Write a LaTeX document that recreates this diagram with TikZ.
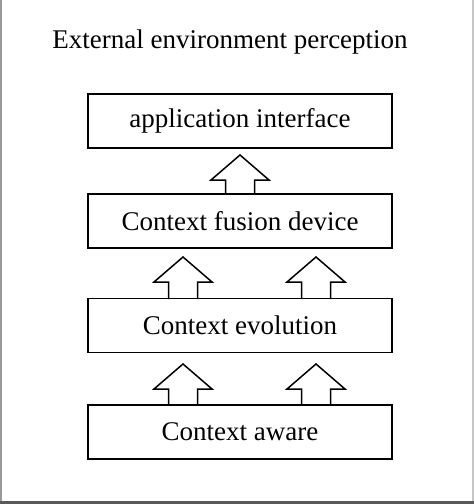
\documentclass[tikz,border=0pt]{standalone}
\usepackage{fontspec}
\setmainfont{Liberation Serif}
\begin{document}
\begin{tikzpicture}[x=1pt,y=-1pt,
  layer/.style={draw,line width=1.8pt,minimum width=304pt,minimum height=54pt,inner sep=0pt,font=\fontsize{27}{31}\selectfont},
  fatarrow/.style={draw,line width=1.5pt,fill=white,line join=miter}]
\useasboundingbox (0,0) rectangle (474,504);
\fill[white] (0,0) rectangle (474,504);
\draw[gray!80,line width=2pt] (1,0) -- (1,504);
\draw[gray!45,line width=2pt] (473,0) -- (473,504);
\draw[black!65,line width=3pt] (0,502.5) -- (474,502.5);
% fat arrows (drawn first so the boxes' borders lie on top)
\newcommand{\fatup}[3]{% x, tip y, base y
  \draw[fatarrow] ({#1-14.5},#3) -- ({#1-14.5},{#2+25}) -- ({#1-29},{#2+25}) -- (#1,#2) -- ({#1+29},{#2+25}) -- ({#1+14.5},{#2+25}) -- ({#1+14.5},#3);}
\fatup{240}{155}{194}
\fatup{183}{257}{299}
\fatup{316}{257}{299}
\fatup{183}{364}{405}
\fatup{316}{364}{405}
\node[font=\fontsize{27}{31}\selectfont] (title) at (230,42) {External environment perception};
\node[layer] (app) at (240,121) {application interface};
\node[layer] (fus) at (240,221) {Context fusion device};
\node[layer] (evo) at (240,325.5) {Context evolution};
\node[layer] (awa) at (240,432) {Context aware};
\end{tikzpicture}
\end{document}
